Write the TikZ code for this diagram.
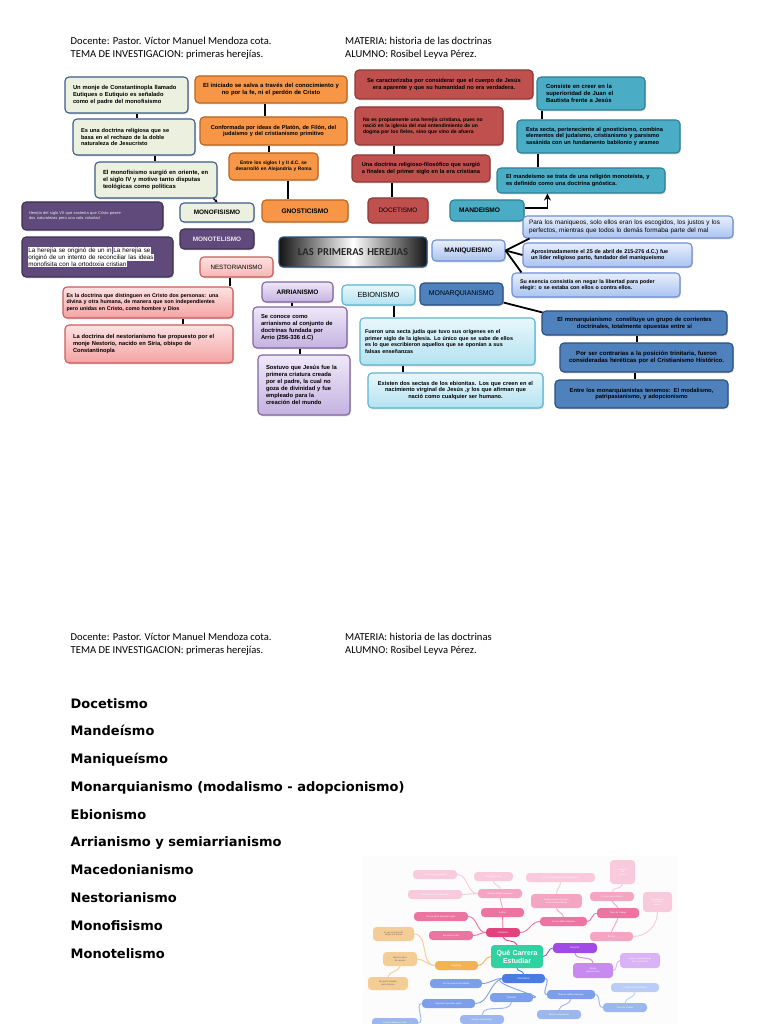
\documentclass[tikz,border=0pt]{standalone}
\usepackage{fontspec}
\setmainfont{Liberation Sans}
\newfontfamily\calib{Carlito}
\newfontfamily\dejav{DejaVu Sans}
\usetikzlibrary{shadows,arrows.meta,calc,backgrounds}
\definecolor{cream}{HTML}{EBF1DE}\definecolor{creamb}{HTML}{3E5C8A}
\definecolor{orng}{HTML}{F79646}\definecolor{orngb}{HTML}{B8651F}
\definecolor{redf}{HTML}{C0504D}\definecolor{redb}{HTML}{8C3A38}
\definecolor{tealf}{HTML}{4BACC6}\definecolor{tealb}{HTML}{2E7E93}
\definecolor{dpur}{HTML}{5F4A7B}\definecolor{dpurb}{HTML}{3F3151}
\definecolor{pinkt}{HTML}{FDE2E2}\definecolor{pinkbt}{HTML}{F4A3A3}\definecolor{pinkd}{HTML}{CC5B58}
\definecolor{lavt}{HTML}{EFE8F8}\definecolor{lavbt}{HTML}{C4B2E0}\definecolor{lavd}{HTML}{8064A2}
\definecolor{cyt}{HTML}{E8F7FC}\definecolor{cybt}{HTML}{B3E2F1}\definecolor{cyd}{HTML}{5BB5CE}
\definecolor{lbt}{HTML}{E8EFFC}\definecolor{lbbt}{HTML}{AAC3F0}\definecolor{lbd}{HTML}{6D8ED6}
\definecolor{bluf}{HTML}{4F81BD}\definecolor{blub}{HTML}{2B4F7E}
\definecolor{mmg}{HTML}{2ED3A2}
\definecolor{pkA}{HTML}{E2437E}\definecolor{pkB}{HTML}{EC74A0}\definecolor{pkC}{HTML}{F3A5C2}\definecolor{pkD}{HTML}{F8CADB}
\definecolor{orA}{HTML}{F2B355}\definecolor{orB}{HTML}{F3CC96}
\definecolor{puA}{HTML}{A04BE6}\definecolor{puB}{HTML}{C78AF1}\definecolor{puC}{HTML}{DAB2F6}
\definecolor{blA}{HTML}{4A7BE4}\definecolor{blB}{HTML}{7D9FEB}\definecolor{blC}{HTML}{9CB6EF}\definecolor{blD}{HTML}{BACDF4}
\def\bxpad{3}
\newcommand\BX[8]{%
 \pgfmathsetmacro\bxw{#4-#2}%
 \pgfmathsetmacro\bxh{#5-#3}%
 \pgfmathsetmacro\bxt{#4-#2-2*\bxpad}%
 \pgfmathsetmacro\bxl{#7*1.2}%
 \node[minimum width=\bxw pt, minimum height=\bxh pt, text width=\bxt pt, inner xsep=\bxpad pt, inner ysep=0.5pt, font=\fontsize{#7}{\bxl}\selectfont, #1] (#6) at ({(#2+#4)/2},{(#3+#5)/2}) {#8};}
\newcommand\VC[3]{\draw[conn] ($(#1.south)+(#3,0)$) coordinate (vct) -- (vct |- #2.north);}
\newcommand\hw[1]{{\setlength{\fboxsep}{0.3pt}\colorbox{white}{#1}}}
\tikzset{
 hdr/.style={font=\calib\fontsize{10.6}{12}\selectfont, inner sep=0, anchor=base west},
 lst/.style={font=\dejav\bfseries\fontsize{13}{15}\selectfont, inner sep=0, anchor=base west},
 base/.style={draw, rounded corners=4pt, line width=1.1pt, text=black, align=center,
   drop shadow={opacity=0.3, shadow xshift=1pt, shadow yshift=-1.3pt}},
 bb/.style={execute at begin node=\bfseries},
 creambox/.style={base, bb, fill=cream, draw=creamb, align=left},
 orbox/.style={base, bb, fill=orng, draw=orngb},
 redbox/.style={base, bb, fill=redf, draw=redb},
 tealbox/.style={base, bb, fill=tealf, draw=tealb, align=left},
 dpbox/.style={base, fill=dpur, draw=dpurb, text=white!88!dpur, align=left},
 pinkbox/.style={base, bb, top color=pinkt, bottom color=pinkbt, draw=pinkd, align=left},
 lavbox/.style={base, bb, top color=lavt, bottom color=lavbt, draw=lavd, align=left},
 cybox/.style={base, bb, top color=cyt, bottom color=cybt, draw=cyd, align=left},
 lbbox/.style={base, top color=lbt, bottom color=lbbt, draw=lbd, align=left},
 blbox/.style={base, bb, fill=bluf, draw=blub},
 conn/.style={line width=1.8pt, black},
 pill/.style={rounded corners=3.5pt, text=white, align=center, inner ysep=0pt},
 mml/.style={line width=0.9pt},
}
\begin{document}
\begin{tikzpicture}[x=1pt,y=-1pt]
\useasboundingbox (0,0) rectangle (768,1024);
\begin{pgfonlayer}{background}
\fill[white] (0,0) rectangle (768,1024);
\fill[black!1] (362,856) rectangle (678,1024);
\end{pgfonlayer}
% ---------- header 1
\node[hdr] (h1a) at (70.5,45) {Docente: Pastor. Víctor Manuel Mendoza cota.};
\node[hdr] (h1b) at (70.5,58) {TEMA DE INVESTIGACION: primeras herejías.};
\node[hdr] (h1c) at (345,45) {MATERIA: historia de las doctrinas};
\node[hdr] (h1d) at (345,58) {ALUMNO: Rosibel Leyva Pérez.};
% ---------- monofisismo column
\def\bxpad{8}
\BX{creambox}{65}{77}{188}{113}{monje}{5.8}{Un monje de Constantinopla llamado\\ Eutiques o Eutiquio es señalado\\ como el padre del monofisismo}
\BX{creambox}{73}{119}{195}{155}{doct}{5.65}{Es una doctrina religiosa que se\\ basa en el rechazo de la doble\\ naturaleza de Jesucristo}
\BX{creambox}{95}{162}{217}{198}{surg}{5.9}{El monofisismo surgió en oriente, en\\ el siglo IV y motivo tanto disputas\\ teológicas como políticas}
\def\bxpad{2}
\BX{creambox,align=center}{180}{203}{254}{222}{monofis}{6.4}{MONOFISISMO}
\BX{dpbox,bb,align=center}{180}{229}{254}{249}{monotel}{6.4}{MONOTELISMO}
\def\bxpad{7}
\BX{dpbox}{22}{202}{163}{230}{herej}{4}{Herejía del siglo VII que sostenía que Cristo posee\\ dos naturalezas pero una sola voluntad}
\def\bxpad{6}
\BX{dpbox,text=black}{22}{237}{173}{277}{origen}{6.3}{\hw{La herejía se originó de un in}\,\hw{La herejía se}\\[-0.7pt] \hw{originó de un intento de reconciliar las ideas}\\[-0.7pt] \hw{monofisita con la ortodoxia cristian}}
% ---------- gnosticismo
\def\bxpad{2}
\BX{orbox}{195}{76}{347}{103}{inic}{5.9}{El iniciado se salva a través del conocimiento y\\ no por la fe, ni el perdón de Cristo}
\BX{orbox}{200}{117}{347}{145}{conf}{5.65}{Conformada por ideas de Platón, de Filón, del\\ judaísmo y del cristianismo primitivo}
\BX{orbox}{229}{153}{318}{180}{sigl}{4.9}{Entre los siglos I y II d.C. se\\ desarrolló en Alejandría y Roma}
\BX{orbox}{262}{200}{348}{222}{gnos}{6.6}{GNOSTICISMO}
% ---------- docetismo
\BX{redbox}{355}{70}{533}{99}{carac}{5.7}{Se caracterizaba por considerar que el cuerpo de Jesús\\ era aparente y que su humanidad no era verdadera.}
\def\bxpad{8}
\BX{redbox,align=left}{355}{107}{503}{145}{noes}{5.05}{No es propiamente una herejía cristiana, pues no\\ nació en la iglesia del mal entendimiento de un\\ dogma por los fieles, sino que vino de afuera}
\def\bxpad{2}
\BX{redbox}{352}{155}{490}{182}{unadoc}{5.65}{Una doctrina religioso-filosófico que surgió\\ a finales del primer siglo en la era cristiana}
\BX{base,fill=redf,draw=redb}{368}{198}{428}{223}{docet}{6.4}{DOCETISMO}
% ---------- mandeismo
\def\bxpad{9}
\BX{tealbox}{537}{77}{645}{110}{consis}{5.9}{Consiste en creer en la\\ superioridad de Juan el\\ Bautista frente a Jesús}
\BX{tealbox}{517}{120}{680}{153}{secta}{5.65}{Esta secta, perteneciente al gnosticismo, combina\\ elementos del judaísmo, cristianismo y parsismo\\ sasánida con un fundamento babilonio y arameo}
\BX{tealbox}{497}{168}{665}{193}{mtrata}{5.7}{El mandeísmo se trata de una religión monoteísta, y\\ es definido como una doctrina gnóstica.}
\BX{tealbox}{450}{200}{524}{221}{mand}{6.6}{MANDEISMO}
% ---------- center
\def\bxpad{2}
\BX{base, draw=blub, left color=black!92, right color=black!92, middle color=white, font=\calib\bfseries\fontsize{10.6}{12}\selectfont, text=black!85}{279}{237}{427}{267}{center}{10.6}{LAS PRIMERAS HEREJIAS}
% ---------- maniqueismo
\BX{lbbox,bb,align=center}{432}{240}{505}{261}{maniq}{6.6}{MANIQUEISMO}
\def\bxpad{6}
\BX{lbbox}{523}{216}{733}{238}{para}{6.4}{Para los maniqueos, solo ellos eran los escogidos, los justos y los\\ perfectos, mientras que todos lo demás formaba parte del mal}
\def\bxpad{8}
\BX{lbbox,bb}{523}{243}{692}{267}{aprox}{5.45}{Aproximadamente el 25 de abril de 215-276 d.C.) fue\\ un líder religioso parto, fundador del maniqueísmo}
\BX{lbbox,bb}{512}{273}{680}{297}{esen}{5.35}{Su esencia consistía en negar la libertad para poder\\ elegir: o se estaba con ellos o contra ellos.}
% ---------- nestorianismo
\def\bxpad{2}
\BX{base, top color=pinkt, bottom color=pinkbt!80, draw=pinkd, align=center}{200}{257}{273}{277}{nest}{6.2}{NESTORIANISMO}
\def\bxpad{3.5}
\BX{pinkbox}{63}{287}{233}{318}{esdoc}{5.35}{Es la doctrina que distinguen en Cristo dos personas: una\\ divina y otra humana, de manera que son independientes\\ pero unidas en Cristo, como hombre y Dios}
\def\bxpad{8}
\BX{pinkbox}{65}{325}{233}{363}{nprop}{5.75}{La doctrina del nestorianismo fue propuesto por el\\ monje Nestorio, nacido en Siria, obispo de\\ Constantinopla}
% ---------- arrianismo
\def\bxpad{2}
\BX{lavbox,align=center}{262}{282}{333}{302}{arri}{6.5}{ARRIANISMO}
\def\bxpad{8}
\BX{lavbox}{253}{307}{347}{348}{secon}{5.8}{Se conoce como\\ arrianismo al conjunto de\\ doctrinas fundada por\\ Arrio (256-336 d.C)}
\BX{lavbox}{258}{355}{350}{415}{sost}{5.8}{Sostuvo que Jesús fue la\\ primera criatura creada\\ por el padre, la cual no\\ goza de divinidad y fue\\ empleado para la\\ creación del mundo}
% ---------- ebionismo
\def\bxpad{2}
\BX{base, top color=cyt, bottom color=cybt, draw=cyd, align=center}{342}{285}{415}{305}{ebio}{7.4}{EBIONISMO}
\def\bxpad{5}
\BX{cybox}{360}{318}{535}{365}{fuer}{5.45}{Fueron una secta judía que tuvo sus orígenes en el\\ primer siglo de la iglesia. Lo único que se sabe de ellos\\ es lo que escribieron aquellos que se oponían a sus\\ falsas enseñanzas}
\def\bxpad{2}
\BX{cybox,align=center}{368}{373}{543}{408}{exis}{5.65}{Existen dos sectas de los ebionitas. Los que creen en el\\ nacimiento virginal de Jesús ,y los que afirman que\\ nació como cualquier ser humano.}
% ---------- monarquianismo
\BX{base, fill=bluf, draw=blub}{420}{283}{503}{305}{monq}{6.9}{MONARQUIANISMO}
\BX{blbox}{542}{311}{727}{335}{mconst}{5.85}{El monarquianismo\ \ constituye un grupo de corrientes\\ doctrinales, totalmente opuestas entre sí}
\BX{blbox}{560}{343}{733}{372}{porser}{6.05}{Por ser contrarias a la posición trinitaria, fueron\\ consideradas heréticas por el Cristianismo Histórico.}
\BX{blbox}{555}{380}{728}{408}{entrem}{5.8}{Entre los monarquianistas tenemos: El modalismo,\\ patripasianismo, y adopcionismo}
% ---------- connectors
\VC{monje}{doct}{10.5}
\VC{doct}{surg}{21}
\draw[line width=1.2pt,-{Stealth[length=3pt,width=3pt]}] ($(surg.south east)+(-4,0)$) -- ($(monofis.north east)+(-37,0)$);
\VC{inic}{conf}{-6}
\VC{conf}{sigl}{-4.5}
\VC{sigl}{gnos}{14.5}
\VC{noes}{unadoc}{-35}
\VC{unadoc}{docet}{-29}
\VC{consis}{secta}{-49}
\VC{secta}{mtrata}{-60.5}
\draw[conn,-{Stealth[length=7pt,width=7pt]}] ($(mand.east)+(0,-2.5)$) -| ($(mtrata.south west)+(51,0)$);
\draw[conn] (maniq.east) -- ($(para.south west)+(7,0)$);
\draw[conn] (maniq.east) -- (aprox.west);
\draw[conn] (maniq.east) -- ($(esen.north west)+(10,0)$);
\VC{nest}{esdoc}{-6.5}
\VC{esdoc}{nprop}{35}
\VC{arri}{secon}{-5.5}
\VC{secon}{sost}{0}
\VC{ebio}{fuer}{15.5}
\VC{fuer}{exis}{-44.5}
\draw[conn] ($(monq.south east)+(0,-3)$) -- ($(mconst.north west)+(1,2)$);
\VC{mconst}{porser}{2.5}
\VC{porser}{entrem}{-11.5}
% ---------- header 2
\node[hdr] (h2a) at (70.5,640) {Docente: Pastor. Víctor Manuel Mendoza cota.};
\node[hdr] (h2b) at (70.5,653) {TEMA DE INVESTIGACION: primeras herejías.};
\node[hdr] (h2c) at (345,640) {MATERIA: historia de las doctrinas};
\node[hdr] (h2d) at (345,653) {ALUMNO: Rosibel Leyva Pérez.};
% ---------- list
\node[lst] (l1) at (70.5,708) {Docetismo};
\node[lst] (l2) at (70.5,735.8) {Mandeísmo};
\node[lst] (l3) at (70.5,763.5) {Maniqueísmo};
\node[lst] (l4) at (70.5,791.2) {Monarquianismo (modalismo - adopcionismo)};
\node[lst] (l5) at (70.5,819) {Ebionismo};
\node[lst] (l6) at (70.5,846.7) {Arrianismo y semiarrianismo};
\node[lst] (l7) at (70.5,874.5) {Macedonianismo};
\node[lst] (l8) at (70.5,902.5) {Nestorianismo};
\node[lst] (l9) at (70.5,930.5) {Monofisismo};
\node[lst] (l10) at (70.5,958) {Monotelismo};
% ---------- mind map picture
\begin{scope}
\clip (362,856) rectangle (678,1024);
\def\bxpad{1}
\BX{pill,fill=mmg,font=\bfseries\fontsize{7}{8}\selectfont}{491}{945}{543}{968}{qce}{7}{Qué Carrera\\Estudiar}
\BX{pill,fill=pkA}{486}{928}{520}{937}{lit}{2.4}{Literatura}
\BX{pill,fill=pkB}{481}{908}{524}{917}{letr}{2.4}{Letras}
\BX{pill,fill=pkC}{478}{889}{522}{898}{msal}{2.2}{Muchas salidas laborales}
\BX{pill,fill=pkD}{474}{872}{513}{881}{mgesc}{2.2}{Me gusta escribir}
\BX{pill,fill=pkD}{413}{870}{457}{879}{qmg}{2.2}{¿Qué me gusta estudiar?}
\BX{pill,fill=pkD}{408}{890}{462}{899}{siem}{2.2}{Siempre me ha gustado leer}
\BX{pill,fill=pkB}{414}{912}{468}{921}{noing}{2.2}{No me gusta aprender inglés}
\BX{pill,fill=pkB}{429}{931}{473}{940}{leer}{2.2}{Me encanta leer}
\BX{pill,fill=pkD}{526}{873}{595}{882}{cuan}{2.2}{¿Cuánto puedo ganar en mi trabajo?}
\BX{pill,fill=pkC}{531}{894}{582}{908}{cont}{2.2}{Tengo muchos contactos\\en el mundo editorial}
\BX{pill,fill=pkB}{540}{917}{587}{926}{poca}{2.2}{Pocas salidas laborales}
\BX{pill,fill=pkB}{597}{908}{639}{918}{tip1}{2.2}{Tipos de Trabajo}
\BX{pill,fill=pkC}{590}{892}{634}{901}{plit}{2.2}{Profesor de Literatura}
\BX{pill,fill=pkD}{610}{860}{635}{884}{mges}{2.2}{Me gusta\\ser\\escritor}
\BX{pill,fill=pkC}{590}{932}{633}{941}{escr}{2.2}{Escritor}
\BX{pill,fill=pkD}{643}{892}{672}{912}{dirj}{2.2}{Me dedico a\\una casa\\editorial}
\BX{pill,fill=puA}{553}{943}{597}{953}{dere}{2.4}{Derecho}
\BX{pill,fill=puB}{573}{963}{613}{978}{memo}{2.2}{Mucha\\memorización}
\BX{pill,fill=puC}{620}{953}{660}{968}{cual}{2.2}{¿Cuál es el porcentaje\\de mi profesión?}
\BX{pill,fill=orA}{435}{961}{478}{970}{medi}{2.4}{Medicina}
\BX{pill,fill=orB,text=black!60}{373}{927}{414}{941}{sang}{2.2}{Si veo una gota de\\sangre me mareo}
\BX{pill,fill=orB,text=black!60}{383}{952}{417}{966}{anos}{2.2}{Muchos años\\de carrera}
\BX{pill,fill=orB,text=black!60}{368}{977}{408}{990}{estu}{2.2}{Me gusta estudiar\\para siempre}
\BX{pill,fill=blA}{502}{974}{545}{983}{info}{2.4}{Informática}
\BX{pill,fill=blB}{430}{979}{482}{988}{notc}{2.2}{No me gusta la tecnología}
\BX{pill,fill=blB}{490}{993}{533}{1002}{cien}{2.4}{Ciencias}
\BX{pill,fill=blB}{547}{990}{595}{999}{buen}{2.2}{Buenas salidas laborales}
\BX{pill,fill=blC}{603}{1003}{647}{1012}{tip2}{2.2}{Tipos de Trabajo}
\BX{pill,fill=blD}{611}{983}{659}{992}{pinf}{2.2}{Profesor de Informática}
\BX{pill,fill=blB}{422}{999}{475}{1008}{ingl}{2.2}{Importante aprender inglés}
\BX{pill,fill=blC}{537}{1010}{581}{1019}{comp}{2.2}{Mucha competencia}
\BX{pill,fill=blC}{460}{1015}{504}{1024}{mate}{2.2}{Muchas matemáticas}
\BX{pill,fill=blC}{372}{1018}{418}{1028}{trab}{2.2}{Puedo trabajar en casa}
\begin{pgfonlayer}{background}
\draw[mml,pkA] (qce.north) to[out=110,in=-70] (lit.south);
\draw[mml,pkB] (lit.north) to[out=100,in=-80] (letr.south);
\draw[mml,pkC] (letr.north) to[out=100,in=-80] (msal.south);
\draw[mml,pkD] (msal.north) to[out=90,in=-90] (mgesc.south);
\draw[mml,pkD] (msal.west) to[out=180,in=0] (qmg.east);
\draw[mml,pkD] (msal.west) to[out=180,in=0] (siem.east);
\draw[mml,pkB] (lit.west) to[out=180,in=0] (noing.east);
\draw[mml,pkB] (lit.west) to[out=180,in=0] (leer.east);
\draw[mml,pkB] (lit.east) to[out=0,in=180] (poca.west);
\draw[mml,pkC] (poca.north) to[out=100,in=-80] (cont.south);
\draw[mml,pkD] (cont.north) to[out=90,in=-90] (cuan.south);
\draw[mml,pkB] (poca.east) to[out=0,in=180] (tip1.west);
\draw[mml,pkC] (tip1.north) to[out=110,in=-70] (plit.south);
\draw[mml,pkD] (plit.north) to[out=80,in=-90] (mges.south);
\draw[mml,pkC] (tip1.south) to[out=-110,in=70] (escr.north);
\draw[mml,pkD] (escr.east) to[out=0,in=-90] (dirj.south);
\draw[mml,puA] (qce.east) to[out=0,in=180] (dere.west);
\draw[mml,puB] (dere.south) to[out=-80,in=100] (memo.north);
\draw[mml,puC] (memo.east) to[out=0,in=180] (cual.west);
\draw[mml,orA] (qce.west) to[out=180,in=0] (medi.east);
\draw[mml,orB] (medi.west) to[out=180,in=0] (sang.east);
\draw[mml,orB] (medi.west) to[out=180,in=0] (anos.east);
\draw[mml,orB] (anos.south) to[out=-100,in=80] (estu.north);
\draw[mml,blA] (qce.south) to[out=-80,in=100] (info.north);
\draw[mml,blB] (info.west) to[out=180,in=0] (notc.east);
\draw[mml,blB] (info.west) to[out=200,in=0] (cien.east);
\draw[mml,blB] (info.west) to[out=200,in=0] (ingl.east);
\draw[mml,blB] (info.east) to[out=0,in=180] (buen.west);
\draw[mml,blC] (buen.east) to[out=0,in=180] (tip2.west);
\draw[mml,blD] (tip2.north) to[out=80,in=-90] (pinf.south);
\draw[mml,blC] (buen.south) to[out=-100,in=80] (comp.north);
\draw[mml,blC] (cien.south) to[out=-100,in=80] (mate.north);
\draw[mml,blC] (ingl.west) to[out=180,in=0] (trab.east);
\end{pgfonlayer}
\end{scope}
\end{tikzpicture}
\end{document}
